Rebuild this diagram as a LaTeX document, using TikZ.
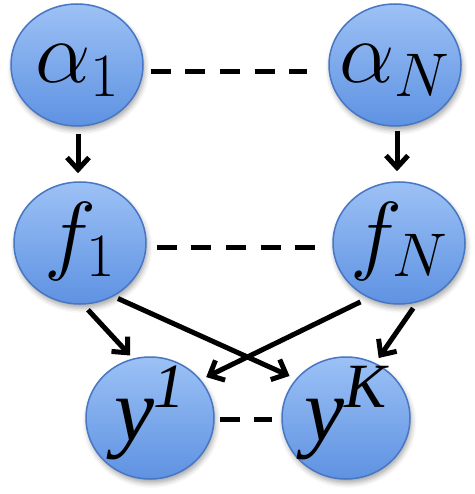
\RequirePackage{fix-cm}
\documentclass[tikz,border=0pt]{standalone}
\usepackage{fontspec}
\newfontfamily\tms{Liberation Serif}
\usetikzlibrary{shapes.geometric,arrows.meta,shadows.blur}
\definecolor{nodetop}{RGB}{156,193,245}
\definecolor{nodebot}{RGB}{94,146,226}
\definecolor{nodeline}{RGB}{72,118,194}
% label box: fixed apparent size so that all circles keep the same size
\newcommand\lbl[2]{\raisebox{0pt}[#1][0pt]{\makebox[0pt][c]{#2}}}
\tikzset{
  var/.style={ellipse, draw=nodeline, line width=1.5pt,
    top color=nodetop, bottom color=nodebot,
    minimum width=132pt, minimum height=122pt, inner sep=0pt,
    blur shadow={shadow xshift=1.5pt, shadow yshift=-4pt, shadow blur radius=5pt, shadow opacity=35}},
  arr/.style={line width=5pt, -{Straight Barb[length=12pt,width=22pt,line width=5pt]}},
  dline/.style={line width=5pt, dash pattern=on 20pt off 14.6pt},
  mathlbl/.style={font=\fontsize{88}{88}\selectfont},
  ylbl/.style={font=\tms\fontsize{90}{90}\selectfont\itshape}
}
\begin{document}
\begin{tikzpicture}[x=1pt,y=-1pt]
\useasboundingbox (0,0) rectangle (474,494);
\node[var, mathlbl] (a1) at (77,65) {\lbl{36pt}{$\alpha_1$}};
\node[var, mathlbl] (aN) at (395,65) {\lbl{36pt}{$\alpha_N$}};
\node[var, mathlbl] (f1) at (80,243) {\lbl{40pt}{$f_1$}};
\node[var, mathlbl] (fN) at (399,243) {\lbl{40pt}{$f_N$}};
\node[var, ylbl, minimum width=128pt] (y1) at (150,418) {\lbl{44pt}{y\textsuperscript{1}}};
\node[var, ylbl, minimum width=128pt] (yK) at (346,418) {\lbl{44pt}{y\textsuperscript{K}}};
% dashed links
\draw[dline] ([xshift=7pt,yshift=-7pt]a1.east) -- ([xshift=-21pt,yshift=-7pt]aN.west);
\draw[dline] ([xshift=10pt,yshift=-4pt]f1.east) -- ([xshift=-17pt,yshift=-4pt]fN.west);
\draw[dline] ([xshift=5pt,yshift=-1pt]y1.east) -- ([xshift=-9pt,yshift=-1pt]yK.west);
% arrows
\draw[arr, shorten <=7pt, shorten >=8pt] ([xshift=1pt]a1.south) -- ([xshift=1pt]a1.south |- f1.north);
\draw[arr, shorten <=4pt, shorten >=10pt] ([xshift=2pt]aN.south) -- ([xshift=2pt]aN.south |- fN.north);
\draw[arr, shorten <=5pt, shorten >=7pt] (f1.-58) -- (yK.142.5);
\draw[arr, shorten <=9pt, shorten >=6pt] (fN.-119) -- (y1.37.4);
\draw[arr, shorten <=7pt, shorten >=4pt] (f1.-87.4) -- (y1.106);
\draw[arr, shorten <=7pt, shorten >=6pt] (fN.-73.7) -- (yK.62);
\end{tikzpicture}
\end{document}
